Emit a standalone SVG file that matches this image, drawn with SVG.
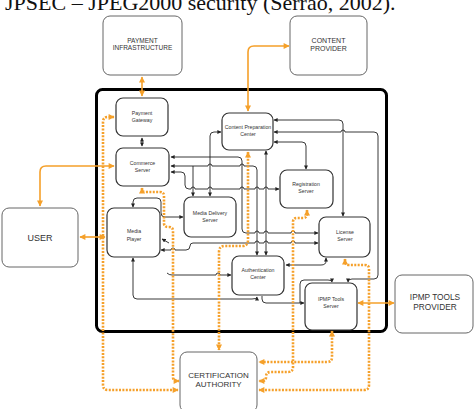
<svg xmlns="http://www.w3.org/2000/svg" width="474" height="409" viewBox="0 0 474 409">
<style>
.ext{fill:#fff;stroke:#666;stroke-width:1}
.int{fill:#fff;stroke:#333;stroke-width:1.2}
.tx{font-family:"Liberation Sans",Arial,sans-serif;fill:#333;text-anchor:middle}
.te{font-size:6.5px}
.ti{font-size:5.2px}
.bl{fill:none;stroke:#222;stroke-width:0.9}
.os{fill:none;stroke:#f5a02a;stroke-width:1.6}
.od{fill:none;stroke:#f5a02a;stroke-width:2.6;stroke-dasharray:2 1.4}
</style>
<defs>
<marker id="ab" viewBox="0 0 10 10" refX="9" refY="5" markerWidth="4.5" markerHeight="4" orient="auto-start-reverse" markerUnits="userSpaceOnUse"><path d="M0,0 L10,5 L0,10 z" fill="#222"/></marker>
<marker id="ao" viewBox="0 0 10 10" refX="9" refY="5" markerWidth="7" markerHeight="6" orient="auto-start-reverse" markerUnits="userSpaceOnUse"><path d="M0,0 L10,5 L0,10 z" fill="#f5a02a"/></marker>
</defs>
<rect width="474" height="409" fill="#fff"/>
<text x="5" y="10" font-family="Liberation Serif,Times New Roman,serif" font-size="22" fill="#111">JPSEC – JPEG2000 security (Serrão, 2002).</text>

<rect x="96.5" y="89.5" width="290" height="242" rx="6" fill="none" stroke="#000" stroke-width="3"/>

<g id="payment-infrastructure"><rect class="ext" x="103" y="16" width="79" height="59" rx="7"/><text class="tx te" x="142.5" y="43">PAYMENT</text><text class="tx te" x="142.5" y="50">INFRASTRUCTURE</text></g>
<g id="content-provider"><rect class="ext" x="290" y="16" width="77" height="59" rx="7"/><text class="tx" font-size="7" x="328.5" y="43">CONTENT</text><text class="tx" font-size="7" x="328.5" y="51">PROVIDER</text></g>
<g id="user"><rect class="ext" x="2" y="208" width="76" height="59" rx="7"/><text class="tx" font-size="9" x="40" y="241">USER</text></g>
<g id="ipmp-tools-provider"><rect class="ext" x="395" y="275" width="78" height="58" rx="7"/><text class="tx" font-size="8.3" x="435" y="300">IPMP TOOLS</text><text class="tx" font-size="8.3" x="435" y="310">PROVIDER</text></g>
<g id="certification-authority"><rect class="ext" x="180" y="352" width="77" height="60" rx="7"/><text class="tx" font-size="8" x="218.5" y="378">CERTIFICATION</text><text class="tx" font-size="8" x="218.5" y="387">AUTHORITY</text></g>

<g id="payment-gateway"><rect class="int" x="116" y="98" width="52" height="38" rx="7"/><text class="tx ti" x="142" y="115">Payment</text><text class="tx ti" x="142" y="121.5">Gateway</text></g>
<g id="commerce-server"><rect class="int" x="116" y="148" width="53" height="38" rx="7"/><text class="tx ti" x="142.5" y="165">Commerce</text><text class="tx ti" x="142.5" y="171.5">Server</text></g>
<g id="media-player"><rect class="int" x="107" y="208" width="53" height="49" rx="7"/><text class="tx ti" x="134" y="233">Media</text><text class="tx ti" x="134" y="240.5">Player</text></g>
<g id="media-delivery-server"><rect class="int" x="184" y="197" width="52" height="40" rx="7"/><text class="tx ti" x="210" y="215">Media Delivery</text><text class="tx ti" x="210" y="221.5">Server</text></g>
<g id="content-preparation-center"><rect class="int" x="222" y="113" width="51" height="37" rx="7"/><text class="tx ti" x="248" y="129">Content Preparation</text><text class="tx ti" x="248" y="135.5">Center</text></g>
<g id="registration-server"><rect class="int" x="280" y="170" width="53" height="38" rx="7"/><text class="tx ti" x="306" y="186">Registration</text><text class="tx ti" x="306" y="192.5">Server</text></g>
<g id="license-server"><rect class="int" x="319" y="217" width="51" height="40" rx="7"/><text class="tx ti" x="345" y="234">License</text><text class="tx ti" x="345" y="240.5">Server</text></g>
<g id="authentication-center"><rect class="int" x="232" y="256" width="52" height="39" rx="7"/><text class="tx ti" x="258" y="272">Authentication</text><text class="tx ti" x="258" y="278.5">Center</text></g>
<g id="ipmp-tools-server"><rect class="int" x="305" y="283" width="52" height="47" rx="7"/><text class="tx ti" x="331" y="301">IPMP Tools</text><text class="tx ti" x="331" y="307.5">Server</text></g>

<g id="connectors">
<path class="bl" d="M142,138 V146" marker-start="url(#ab)" marker-end="url(#ab)"/>
<path class="bl" d="M171,157 H238 Q242,157 242,161 V229 Q242,233 246,233 H255 a2,2 0 0 1 4,0 H264 a2,2 0 0 1 4,0 H291 a2,2 0 0 1 4,0 H318" marker-start="url(#ab)" marker-end="url(#ab)"/>
<path class="bl" d="M171,166 H208 a2,2 0 0 1 4,0 H240 a2,2 0 0 1 4,0 H253 Q257,166 257,170 V255" marker-start="url(#ab)" marker-end="url(#ab)"/>
<path class="bl" d="M193,166 V196" marker-end="url(#ab)"/>
<path class="bl" d="M171,172 H181 Q185,172 185,176 V185 Q185,189 189,189 H191 a2,2 0 0 1 4,0 H208 a2,2 0 0 1 4,0 H240 a2,2 0 0 1 4,0 H255 a2,2 0 0 1 4,0 H264 a2,2 0 0 1 4,0 H279" marker-start="url(#ab)" marker-end="url(#ab)"/>
<path class="bl" d="M221,132 H214 Q210,132 210,136 V196" marker-start="url(#ab)" marker-end="url(#ab)"/>
<path class="bl" d="M274,120 H339 Q343,120 343,124 V216" marker-start="url(#ab)" marker-end="url(#ab)"/>
<path class="bl" d="M274,132 H341 a2,2 0 0 1 4,0 H374 Q378,132 378,136 V275 Q378,279 374,279 H352 Q348,279 348,282" marker-start="url(#ab)" marker-end="url(#ab)"/>
<path class="bl" d="M274,142 H302 Q306,142 306,146 V169" marker-start="url(#ab)" marker-end="url(#ab)"/>
<path class="bl" d="M266,151 V255" marker-start="url(#ab)" marker-end="url(#ab)"/>
<path class="bl" d="M161,250 H171 a2,2 0 0 1 4,0 H186 Q190,250 190,246 Q190,243 193,243 H255 a2,2 0 0 1 4,0 H264 a2,2 0 0 1 4,0 H291 a2,2 0 0 1 4,0 H318" marker-start="url(#ab)" marker-end="url(#ab)"/>
<path class="bl" d="M133,207 V202 Q133,198 137,198 H157 Q161,198 161,202 V213 Q161,217 165,217 H183" marker-start="url(#ab)" marker-end="url(#ab)"/>
<path class="bl" d="M133,258 V295 Q133,299 137,299 H252 Q257,299 257,297" marker-start="url(#ab)" marker-end="url(#ab)"/>
<path class="bl" d="M262,296 V299 Q262,303 266,303 H304" marker-end="url(#ab)"/>
<path class="bl" d="M300,303 V284 Q300,280 304,280 H328 Q332,280 332,282" marker-end="url(#ab)"/>
<path class="bl" d="M286,265 H321 Q326,265 326,261 V258" marker-start="url(#ab)" marker-end="url(#ab)"/>
<path class="bl" d="M167,273 Q169,275 172,275 H216 a2,2 0 0 1 4,0 H231" marker-end="url(#ab)"/>
<path class="bl" d="M169,243 L162,239" marker-end="url(#ab)"/>

<path class="os" d="M142,77 V96" marker-start="url(#ao)" marker-end="url(#ao)"/>
<path class="os" d="M248,111 V52 Q248,46 254,46 H289" marker-start="url(#ao)" marker-end="url(#ao)"/>
<path class="os" d="M40,206 V172 Q40,166 46,166 H114" marker-start="url(#ao)" marker-end="url(#ao)"/>
<path class="os" d="M80,237 H105" marker-start="url(#ao)" marker-end="url(#ao)"/>
<path class="os" d="M358,303 H394" marker-start="url(#ao)" marker-end="url(#ao)"/>

<path class="od" d="M114,117 H108 Q103,117 103,122 V385 Q103,390 108,390 H178" marker-start="url(#ao)" marker-end="url(#ao)"/>
<path class="od" d="M142,188 V190 Q142,192 146,192 H160 Q164,192 164,196 V223 Q164,227 168,227 H169 Q173,227 173,231 V377 Q173,381 177,381 H179" marker-start="url(#ao)" marker-end="url(#ao)"/>
<path class="od" d="M248,152 V240 Q248,246 242,246 H225 Q219,246 219,252 V350" marker-start="url(#ao)" marker-end="url(#ao)"/>
<path class="od" d="M307,210 V214 Q307,218 303,218 H297 Q293,218 293,222 V367 Q293,372 288,372 H271 Q266,372 266,377 Q266,381 262,381 H259" marker-start="url(#ao)" marker-end="url(#ao)"/>
<path class="od" d="M345,259 V261 Q345,265 349,265 H365 Q369,265 369,269 V385 Q369,390 364,390 H259" marker-start="url(#ao)" marker-end="url(#ao)"/>
<path class="od" d="M332,331 V357 Q332,362 327,362 H259" marker-start="url(#ao)" marker-end="url(#ao)"/>
</g>
</svg>
